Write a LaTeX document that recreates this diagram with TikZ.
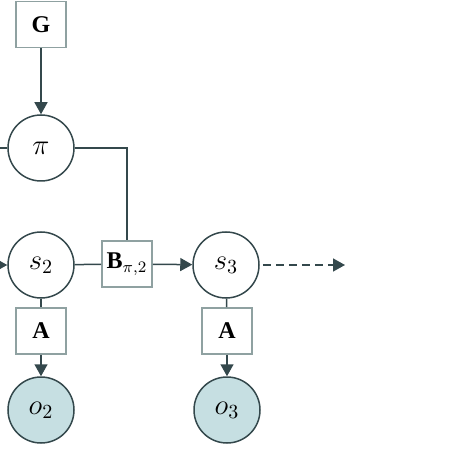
\documentclass[tikz,border=0pt]{standalone}
\usepackage{fontspec}
\setmainfont{Liberation Serif}
\usetikzlibrary{arrows.meta}
\definecolor{edgec}{HTML}{34484C}
\definecolor{boxc}{HTML}{8FA1A1}
\definecolor{obsc}{HTML}{C6DFE2}
\tikzset{
  var/.style={circle,draw=edgec,line width=0.75pt,minimum size=33pt,inner sep=0pt,font=\Large},
  obs/.style={var,fill=obsc},
  fac/.style={rectangle,draw=boxc,line width=0.8pt,minimum width=25pt,minimum height=23pt,inner sep=0pt,font=\large\bfseries},
}
\begin{document}
\begin{tikzpicture}[x=0.5pt,y=-0.5pt,>={Triangle[length=6pt,width=6.5pt]},line width=0.75pt]
    \useasboundingbox (0,0) rectangle (474,474);
    \node[fac](G) at (41,24.5){G};
    \node[var](pi) at (41,148){$\pi$};
    \node[var](s2) at (41,265){$s_2$};
    \node[fac](B) at (127,264){B$_{\pi,2}$};
    \node[var](s3) at (226,265){$s_3$};
    \node[fac](A2) at (41,331){A};
    \node[fac](A3) at (227,331){A};
    \node[obs](o2) at (41,410){$o_2$};
    \node[obs](o3) at (227,410){$o_3$};
    \coordinate (inpi) at (0,148);
    \coordinate (ins) at (0,265);
    \coordinate (next) at (345,265);
    \draw[edgec,->](G)--(pi);
    \draw[edgec](inpi)--(pi);
    \draw[edgec,->](ins)--(s2);
    \draw[edgec](pi.east)-|(B.north);
    \draw[edgec](s2)--(B);
    \draw[edgec,->](B)--(s3);
    \draw[edgec,->,dashed,dash pattern=on 4pt off 2.5pt](s3.east)++(3,0)--(next);
    \draw[edgec](s2)--(A2);
    \draw[edgec,->](A2)--(o2);
    \draw[edgec](s3)--(A3);
    \draw[edgec,->](A3)--(o3);
    \end{tikzpicture}
\end{document}
